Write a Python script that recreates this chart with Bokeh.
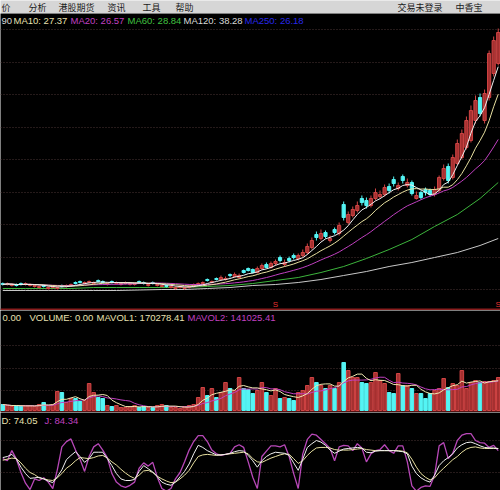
import numpy as np
import pandas as pd
from bokeh.plotting import figure
from bokeh.layouts import column
from bokeh.models import ColumnDataSource, Label, Range1d, Grid, FixedTicker, Span
from bokeh.core.properties import value
from bokeh.embed import file_html
from bokeh.resources import INLINE

# ---------------- data ----------------
opens = [5.5, 5.4, 5.3, 5.4, 5.5, 5.4, 5.3, 5.2, 5.1, 5.3,
         5.0, 5.1, 5.0, 5.3, 5.2, 5.3, 5.6, 5.7, 5.5, 5.6,
         5.5, 5.8, 5.7, 5.4, 5.7, 5.5, 5.4, 5.5, 5.4, 5.4,
         5.7, 5.6, 5.3, 5.6, 5.3, 5.2, 5.3, 5.1, 5.0, 5.1,
         5.0, 5.1, 5.2, 5.4, 5.5, 5.9, 5.6, 6.0, 5.9, 5.9,
         6.4, 6.2, 6.1, 6.8, 7.0, 6.9, 6.6, 7.0, 7.4, 7.1,
         7.5, 8.1, 7.4, 8.0, 8.3, 8.0, 8.3, 8.6, 9.1, 10.4,
         10.0, 10.6, 9.8, 10.9, 10.5, 13.4, 11.6, 12.3, 12.8, 14.0,
         13.8, 13.3, 14.0, 14.2, 14.4, 15.2, 15.9, 15.0, 16.2, 15.3,
         15.6, 14.0, 14.6, 14.9, 14.8, 14.4, 14.8, 16.0, 17.2, 16.1,
         17.5, 18.1, 19.1, 19.8, 21.8, 24.1, 21.8, 24.1, 26.5, 27.5]
closes = [5.4, 5.5, 5.4, 5.3, 5.4, 5.5, 5.4, 5.3, 5.2, 5.2,
          5.1, 5.2, 5.1, 5.2, 5.3, 5.4, 5.5, 5.6, 5.6, 5.7,
          5.6, 5.7, 5.6, 5.5, 5.6, 5.6, 5.5, 5.6, 5.5, 5.5,
          5.6, 5.5, 5.4, 5.5, 5.4, 5.3, 5.2, 5.2, 5.1, 5.2,
          5.1, 5.2, 5.4, 5.5, 5.6, 5.8, 5.7, 5.9, 6.1, 6.0,
          6.3, 6.4, 6.3, 6.6, 6.8, 6.6, 7.0, 7.3, 7.1, 7.5,
          7.7, 7.8, 7.6, 7.8, 8.1, 8.3, 8.6, 9.2, 9.8, 10.1,
          10.5, 10.2, 10.0, 10.6, 11.3, 12.1, 12.4, 12.9, 13.3, 13.6,
          13.3, 14.0, 14.6, 14.4, 15.1, 14.8, 15.5, 15.3, 15.8, 15.6,
          14.5, 14.3, 14.1, 14.6, 14.4, 14.9, 16.1, 17.0, 15.8, 18.1,
          19.5, 20.5, 21.8, 22.8, 23.8, 22.5, 24.5, 28.5, 29.8, 30.6]
highs = [5.6, 5.6, 5.5, 5.5, 5.6, 5.6, 5.5, 5.4, 5.3, 5.4,
         5.2, 5.3, 5.2, 5.4, 5.4, 5.5, 5.7, 5.8, 5.7, 5.8,
         5.7, 5.9, 5.8, 5.6, 5.8, 5.7, 5.6, 5.7, 5.6, 5.6,
         5.8, 5.7, 5.5, 5.7, 5.5, 5.4, 5.4, 5.3, 5.2, 5.3,
         5.2, 5.3, 5.5, 5.6, 5.7, 6.0, 5.8, 6.1, 6.3, 6.2,
         6.5, 6.6, 6.5, 6.9, 7.1, 7.0, 7.2, 7.5, 7.6, 7.7,
         7.9, 8.3, 7.9, 8.2, 8.5, 8.5, 8.9, 9.5, 10.1, 10.7,
         10.9, 10.8, 10.3, 11.1, 11.6, 13.7, 12.7, 13.2, 13.7, 14.3,
         14.1, 14.3, 15.0, 14.8, 15.4, 15.5, 16.2, 15.6, 16.4, 16.0,
         15.8, 14.7, 14.8, 15.1, 15.0, 15.2, 16.3, 17.4, 17.5, 18.4,
         19.9, 20.9, 22.2, 23.3, 24.3, 24.5, 24.9, 28.8, 30.2, 31.0]
lows = [5.3, 5.3, 5.2, 5.2, 5.3, 5.3, 5.2, 5.1, 5.0, 5.1,
        4.9, 5.0, 4.9, 5.1, 5.1, 5.2, 5.4, 5.5, 5.4, 5.5,
        5.4, 5.6, 5.5, 5.3, 5.5, 5.4, 5.3, 5.4, 5.3, 5.3,
        5.5, 5.4, 5.2, 5.4, 5.2, 5.1, 5.1, 5.0, 4.9, 5.0,
        4.9, 5.0, 5.1, 5.3, 5.4, 5.7, 5.5, 5.8, 5.8, 5.8,
        6.1, 6.1, 6.0, 6.5, 6.7, 6.5, 6.5, 6.9, 7.0, 7.0,
        7.3, 7.6, 7.2, 7.6, 7.9, 7.8, 8.1, 8.4, 8.9, 9.8,
        9.8, 10.0, 9.6, 10.4, 10.3, 11.8, 11.4, 12.1, 12.6, 13.3,
        13.0, 13.1, 13.8, 14.0, 14.2, 14.5, 15.2, 14.8, 15.5, 15.1,
        14.3, 13.9, 13.9, 14.3, 14.2, 14.2, 14.6, 15.8, 15.5, 15.9,
        17.3, 17.9, 18.9, 19.6, 21.5, 22.2, 21.5, 23.8, 26.2, 27.3]
volumes = [30000, 25000, 20000, 25000, 20000, 25000, 25000, 20000, 30000, 40000,
           25000, 30000, 95000, 90000, 40000, 60000, 60000, 45000, 50000, 135000,
           90000, 65000, 60000, 25000, 20000, 25000, 15000, 15000, 20000, 25000,
           15000, 20000, 15000, 15000, 25000, 30000, 25000, 15000, 15000, 10000,
           20000, 25000, 30000, 65000, 115000, 75000, 110000, 65000, 90000, 140000,
           110000, 100000, 165000, 110000, 105000, 85000, 100000, 140000, 90000, 75000,
           110000, 60000, 65000, 60000, 50000, 90000, 100000, 125000, 165000, 140000,
           125000, 110000, 125000, 110000, 140000, 240000, 200000, 165000, 165000, 140000,
           135000, 140000, 190000, 150000, 135000, 90000, 85000, 185000, 125000, 125000,
           110000, 85000, 85000, 60000, 85000, 100000, 110000, 160000, 115000, 135000,
           125000, 200000, 110000, 140000, 150000, 140000, 145000, 145000, 150000, 165000]
ma_long_idx = [0, 5, 10, 15, 20, 25, 30, 35, 40, 45, 50, 55, 60, 65, 70, 75, 80, 85, 90, 95, 100, 105, 109]
ma60_vals = [5.0, 5.0, 5.0, 5.0, 5.1, 5.1, 5.1, 5.1, 5.1, 5.2, 5.3, 5.5, 5.8, 6.1, 6.6, 7.2, 8.0, 8.9, 9.9, 11.2, 12.4, 14.0, 15.6]
ma120_vals = [4.8, 4.8, 4.8, 4.8, 4.8, 4.8, 4.85, 4.9, 4.9, 5.0, 5.1, 5.3, 5.4, 5.6, 5.9, 6.3, 6.7, 7.2, 7.6, 8.1, 8.6, 9.3, 10.0]
k_vals = [48, 50, 54, 45, 30, 18, 9, 10, 11, 8, 4, 1, 12, 25, 44, 52, 59, 50, 39, 46,
          58, 58, 58, 46, 33, 18, 8, 5, 5, 7, 22, 33, 27, 21, 12, 2, -2, -4, 2, 12,
          22, 36, 55, 71, 67, 61, 57, 53, 53, 54, 56, 59, 61, 60, 52, 42, 30, 42, 50, 55,
          58, 57, 56, 52, 38, 24, 45, 67, 74, 80, 77, 71, 62, 56, 60, 64, 65, 66, 67, 66,
          58, 57, 60, 61, 61, 61, 61, 60, 59, 55, 32, 18, 10, 5, 2, 15, 33, 42, 48, 55,
          66, 72, 76, 77, 74, 70, 67, 66, 66, 65]
d_vals = [43, 45, 47, 46, 38, 28, 20, 16, 10, 8, 6, 5, 10, 18, 28, 34, 42, 48, 47, 46,
          48, 51, 52, 47, 40, 34, 26, 19, 13, 9, 15, 23, 24, 20, 13, 8, 4, 1, 2, 8,
          15, 24, 38, 50, 53, 54, 53, 52, 53, 54, 55, 56, 57, 58, 55, 46, 40, 39, 43, 47,
          50, 53, 55, 54, 46, 37, 42, 52, 60, 66, 67, 67, 66, 63, 62, 62, 62, 63, 64, 65,
          63, 62, 61, 61, 61, 61, 61, 61, 60, 57, 45, 30, 18, 11, 6, 10, 20, 28, 36, 44,
          50, 58, 64, 67, 68, 66, 65, 65, 65, 65]
j_vals = [46, 42, 61, 45, 20, 0, -12, 8, 5, 10, 2, -10, 25, 68, 78, 83, 62, 45, 22, 50,
          68, 74, 62, 48, 18, 2, -5, -8, -4, 2, 28, 38, 32, 39, 11, -10, -15, -10, 8, 20,
          40, 62, 78, 89, 89, 78, 62, 55, 52, 54, 56, 68, 72, 67, 40, 11, -10, 50, 60, 70,
          70, 68, 72, 50, 18, -10, 55, 82, 92, 90, 82, 74, 65, 42, 68, 71, 70, 61, 74, 66,
          40, 55, 61, 63, 72, 61, 56, 70, 70, 40, -5, -15, -8, -5, -6, 15, 70, 76, 46, 56,
          80, 90, 93, 93, 80, 76, 75, 67, 71, 61]
marker_idx = [60, 109]
marker_text = ["S", "S"]

price_grid = [4.9, 8.15, 11.4, 14.65, 17.9, 21.15, 24.4, 27.65, 30.9]
vol_grid = [100000, 212500, 325000]
kdj_grid = [20, 80]

# ---------------- styles ----------------
BG = "#000000"
UP_FILL, UP_LINE = "#a53030", "#d04444"
DN_FILL, DN_LINE = "#54f4f4", "#54f4f4"
GRID_C = "#4a3434"
SEP_C = "#8a1e1e"
FONT = "Liberation Sans"

n = len(closes)
x = list(range(n))
df = pd.DataFrame(dict(x=x, open=opens, close=closes, high=highs, low=lows, vol=volumes))
up = df["close"] >= df["open"]
df["top"] = df[["open", "close"]].max(axis=1)
df["bot"] = df[["open", "close"]].min(axis=1)
df["fill"] = np.where(up, UP_FILL, DN_FILL)
df["line"] = np.where(up, UP_LINE, DN_LINE)
df["ma5"] = df["close"].rolling(5, min_periods=1).mean()
df["ma10"] = df["close"].rolling(10, min_periods=1).mean()
df["ma20"] = df["close"].rolling(20, min_periods=1).mean()
df["mv1"] = df["vol"].rolling(5, min_periods=1).mean()
df["mv2"] = df["vol"].rolling(10, min_periods=1).mean()
df["k"] = k_vals
df["d"] = d_vals
df["j"] = j_vals
src = ColumnDataSource(df)

xr = Range1d(-0.5, n - 0.5)


def make_fig(h, yr, bg=BG):
    f = figure(width=500, height=h, x_range=xr, y_range=yr, output_backend="svg",
               toolbar_location=None, x_axis_location=None, y_axis_location=None,
               min_border=0, min_border_left=0, min_border_right=0,
               min_border_top=0, min_border_bottom=0,
               background_fill_color=bg, border_fill_color=bg, outline_line_color=None)
    # drop the default grids; custom dotted ones are added per panel
    f.center = [r for r in f.center if not isinstance(r, Grid)]
    return f


def lab(f, x_, y_, t, color, size="9.5px", font=FONT):
    f.add_layout(Label(x=x_, y=y_, x_units="screen", y_units="screen", text=t,
                       text_color=color, text_font_size=size, text_font=font,
                       text_baseline="middle", text_align="left"))


def dotted_grid(f, ticks):
    f.add_layout(Grid(dimension=1, ticker=FixedTicker(ticks=ticks), grid_line_color=GRID_C,
                      grid_line_dash="1 2", grid_line_width=1))


# ---------------- menu bar ----------------
menu = make_fig(13, Range1d(0, 1), bg="#d6d6d6")
for xx, t in [(1, "价"), (28, "分析"), (58, "港股期货"), (107, "资讯"), (142, "工具"), (175, "帮助"),
              (397, "交易未登录"), (455, "中香宝")]:
    lab(menu, xx, 6.5, t, "#1a1a1a", size="9px", font="Noto Sans CJK SC")

# ---------------- price panel ----------------
p1 = make_fig(297, Range1d(2.8, 32.5))
dotted_grid(p1, price_grid)
p1.line(ma_long_idx, ma120_vals, line_color="#c8c8c8", line_width=1)
p1.line(ma_long_idx, ma60_vals, line_color="#3cb43c", line_width=1)
p1.segment(x0="x", y0="low", x1="x", y1="high", line_color="line", line_width=1, source=src)
p1.vbar(x="x", width=0.7, top="top", bottom="bot", fill_color="fill", line_color="line",
        line_width=1, source=src)
p1.line("x", "ma20", line_color="#c040c0", line_width=1, source=src)
p1.line("x", "ma10", line_color="#e8e0a0", line_width=1, source=src)
p1.line("x", "ma5", line_color="#f0f0f0", line_width=1, source=src)
p1.text(x=marker_idx, y=[3.0] * len(marker_idx), text=marker_text, text_color="#e83030",
        text_font_size="8px", text_font=value(FONT), text_align="center", text_baseline="bottom")
p1.add_layout(Span(location=2.92, dimension="width", line_color=SEP_C, line_width=1.5))
for xx, t, c in [(1, "90", "#d8d8d8"), (13, "MA10: 27.37", "#e8e0b0"), (70, "MA20: 26.57", "#c040c0"),
                 (127, "MA60: 28.84", "#40c040"), (183, "MA120: 38.28", "#d8d8d8"),
                 (244, "MA250: 26.18", "#2828e8")]:
    lab(p1, xx, 290, t, c)

# ---------------- volume panel ----------------
p2 = make_fig(102, Range1d(-10000, 500000))
dotted_grid(p2, vol_grid)
p2.vbar(x="x", width=0.78, top="vol", bottom=0, fill_color="fill", line_color="line",
        line_width=1, source=src)
p2.line("x", "mv2", line_color="#c040c0", line_width=1, source=src)
p2.line("x", "mv1", line_color="#f0e8b0", line_width=1, source=src)
p2.add_layout(Span(location=-7000, dimension="width", line_color=SEP_C, line_width=1))
for xx, t, c in [(2, "0.00", "#e8e0b0"), (29, "VOLUME: 0.00", "#e8e0b0"),
                 (96, "MAVOL1: 170278.41", "#e8e0b0"), (187, "MAVOL2: 141025.41", "#c040c0")]:
    lab(p2, xx, 95, t, c)

# ---------------- KDJ panel ----------------
p3 = make_fig(78, Range1d(-13.75, 132.5))
dotted_grid(p3, kdj_grid)
p3.line("x", "j", line_color="#b848b8", line_width=1.3, source=src)
p3.line("x", "d", line_color="#e8e0a0", line_width=1, source=src)
p3.line("x", "k", line_color="#f0f0f0", line_width=1, source=src)
lab(p3, 1, 70, "D: 74.05", "#e8e0b0")
lab(p3, 44, 70, "J: 84.34", "#c040c0")

layout = column(menu, p1, p2, p3, spacing=0)
open("out.html", "w").write(file_html(layout, INLINE))
